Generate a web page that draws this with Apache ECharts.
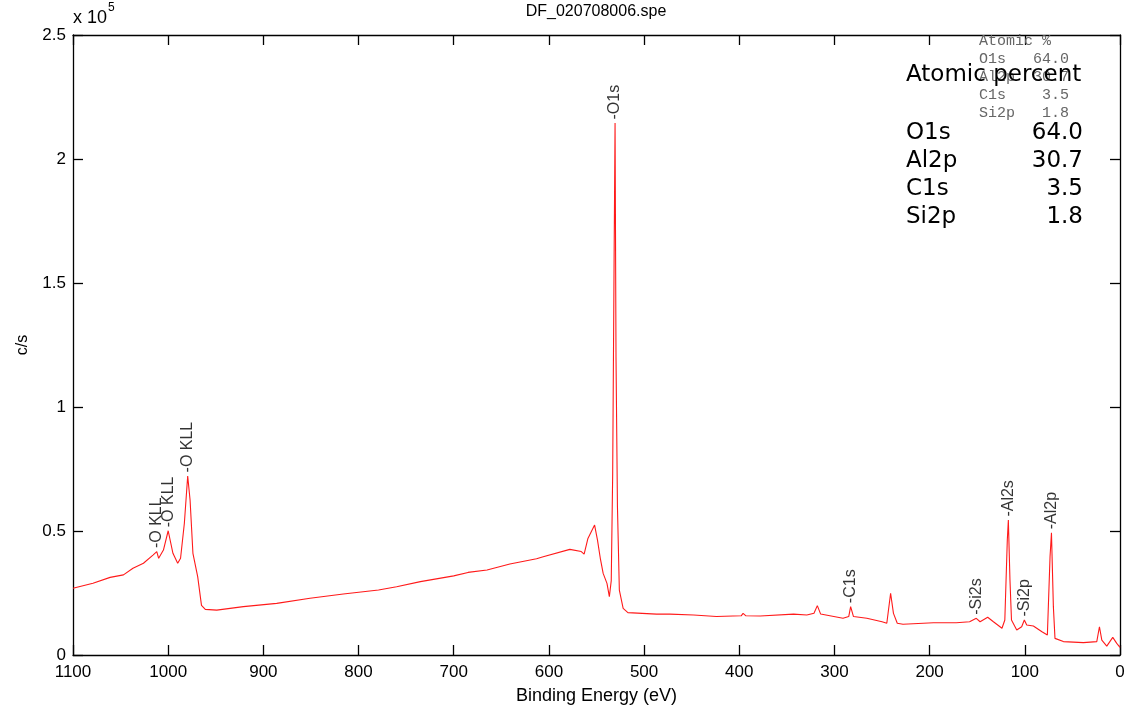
<!DOCTYPE html>
<html>
<head>
<meta charset="utf-8">
<title>DF_020708006.spe</title>
<script src="https://cdn.jsdelivr.net/npm/echarts@6/dist/echarts.min.js"></script>
<style>
	html, body { margin: 0; padding: 0; background: #fff; }
	#chart { width: 1140px; height: 719px; }
</style>
</head>
<body>
<div id="chart"></div>
<script>
// survey spectrum (eV, c/s)
const bindingEnergy = [
	1100, 1079, 1061, 1047, 1037, 1026, 1016, 1012, 1010, 1005, 1000, 995, 990, 987, 983, 979.5, 977, 974, 969, 965, 961,
	949, 921, 886, 851, 816, 779, 760, 735, 700, 685, 665, 641, 613, 606, 578, 566, 563, 559, 552, 549, 546, 543, 539,
	536.5, 534.5, 533, 531.5, 530.5, 529.5, 528, 526, 522, 517, 487, 473, 448, 424, 398, 396, 393, 378, 343, 329,
	321.5, 318, 314.5, 291, 285, 283, 280, 266, 250, 245, 241, 238, 234, 228, 196, 172, 158, 151, 147, 139, 133,
	124, 121, 118.4, 117.3, 115.6, 114, 108.5, 103.3, 100.5, 98, 91, 82, 76.3, 73.5, 72, 70, 68.3, 59.5, 38.5,
	24.4, 21.6, 19.1, 13.9, 7.6, 3.4, 0
];
const countsPerSec = [
	26900, 28900, 31300, 32300, 35000, 37000, 40300, 41700, 39000, 42300, 50100, 41000, 37000, 39000, 53100, 72200, 62500, 41000, 31600, 20000, 18400,
	18100, 19500, 20800, 22900, 24600, 26200, 27500, 29600, 31900, 33300, 34300, 36700, 38800, 39600, 42600, 41700, 40700, 47000, 52400, 46400, 39000, 32900, 28900,
	23500, 30000, 73000, 160000, 214500, 120000, 60000, 26200, 18800, 17100, 16500, 16500, 16100, 15500, 15800, 16800, 15800, 15700, 16500, 16100,
	16800, 19900, 16500, 14800, 15500, 19500, 15500, 14800, 13400, 12800, 24900, 16800, 12800, 12400, 13000, 13000, 13400, 14800, 13400, 15200, 13400,
	10800, 14100, 46400, 54400, 30200, 14100, 10100, 11400, 14100, 12100, 11700, 9400, 8100, 39600, 49300, 19500, 6700, 5400, 5000,
	5400, 11400, 6000, 3600, 7100, 4700, 3100
];

// peak identification labels
const peakNames = ['-O KLL', '-O KLL', '-O KLL', '-O1s', '-C1s', '-Si2s', '-Al2s', '-Si2p', '-Al2p'];
const peakEnergy = [1012, 1000, 979.5, 530.5, 283, 151, 117.3, 100.5, 72];
const peakHeight = [41700, 50100, 72200, 214500, 19500, 14800, 54400, 14100, 49300];

// quantification table
const atomicElements = ['O1s', 'Al2p', 'C1s', 'Si2p'];
const atomicPercent = [64.0, 30.7, 3.5, 1.8];

// axes
const energyTicks = {min: 0, max: 1100, interval: 100};
const countTicks = {min: 0, max: 250000, interval: 50000};
const countExponent = 5;

class SurveySpectrumChart {
	#chart
	#fonts
	constructor(config){
		this.#fonts = {
			sans: '"Liberation Sans", Arial, sans-serif',
			mono: '"Liberation Mono", "Courier New", monospace',
			table: '"DejaVu Sans", Verdana, sans-serif'
		};
		this.#chart = echarts.init(document.querySelector(`#${config.id}`));
		this.#chart.setOption(this.#getOption());
	}
	#getOption(){
		return {
			animation: false,
			backgroundColor: '#fff',
			grid: {left: 73, right: 20, top: 35, bottom: 64, outerBoundsMode: 'none', containLabel: false},
			xAxis: [this.#energyAxis('bottom', true), this.#energyAxis('top', false)],
			yAxis: [this.#countAxis('left', true), this.#countAxis('right', false)],
			series: [
				{
					type: 'line',
					data: bindingEnergy.map((e, i) => [e, countsPerSec[i]]),
					symbol: 'none',
					lineStyle: {color: '#ff1a1a', width: 1.1},
					silent: true,
					z: 2
				},
				{
					type: 'scatter',
					data: peakEnergy.map((e, i) => [e, peakHeight[i]]),
					symbolSize: 1,
					itemStyle: {color: 'rgba(0,0,0,0)'},
					silent: true,
					label: {
						show: true,
						formatter: p => peakNames[p.dataIndex],
						position: 'top',
						distance: 3,
						rotate: 90,
						align: 'left',
						verticalAlign: 'middle',
						color: '#000',
						fontSize: 16,
						fontFamily: this.#fonts.sans
					},
					z: 3
				}
			],
			graphic: this.#getTextGraphics()
		};
	}
	#energyAxis(position, main){
		return {
			type: 'value',
			position: position,
			inverse: true,
			min: energyTicks.min,
			max: energyTicks.max,
			interval: energyTicks.interval,
			axisLine: {show: true, onZero: false, lineStyle: {color: '#000', width: 1.3}},
			axisTick: {show: true, inside: true, length: 10, lineStyle: {color: '#000', width: 1.3}},
			axisLabel: {
				show: main,
				color: '#000',
				fontSize: 17,
				fontFamily: this.#fonts.sans,
				margin: 9,
				showMinLabel: true,
				showMaxLabel: true,
				formatter: v => `${v}`
			},
			splitLine: {show: false},
			name: main? 'Binding Energy (eV)': '',
			nameLocation: 'middle',
			nameGap: 32,
			nameTextStyle: {color: '#000', fontSize: 18, fontFamily: this.#fonts.sans}
		};
	}
	#countAxis(position, main){
		return {
			type: 'value',
			position: position,
			min: countTicks.min,
			max: countTicks.max,
			interval: countTicks.interval,
			axisLine: {show: true, onZero: false, lineStyle: {color: '#000', width: 1.3}},
			axisTick: {show: true, inside: true, length: 10, lineStyle: {color: '#000', width: 1.3}},
			axisLabel: {
				show: main,
				color: '#000',
				fontSize: 17,
				fontFamily: this.#fonts.sans,
				margin: 7,
				formatter: v => `${v / Math.pow(10, countExponent)}`
			},
			splitLine: {show: false},
			name: main? 'c/s': '',
			nameLocation: 'middle',
			nameGap: 42,
			nameTextStyle: {color: '#000', fontSize: 16, fontFamily: this.#fonts.sans}
		};
	}
	#text(x, y, text, font, fill, align, z){
		return {
			type: 'text',
			x: x,
			y: y,
			z: z || 10,
			silent: true,
			style: {
				text: text,
				font: font,
				fill: fill,
				align: align,
				verticalAlign: 'middle',
				textAlign: align,
				textVerticalAlign: 'middle'
			}
		};
	}
	#getTextGraphics(){
		let items = [];
		// title and exponent
		items.push(this.#text(596, 12, 'DF_020708006.spe', `16px ${this.#fonts.sans}`, '#000', 'center'));
		items.push(this.#text(73, 18, 'x 10', `18px ${this.#fonts.sans}`, '#000', 'left'));
		items.push(this.#text(108, 8, `${countExponent}`, `12px ${this.#fonts.sans}`, '#000', 'left'));
		// small monospaced table (underneath)
		let monoLines = ['Atomic %'].concat(atomicElements
			.map((el, i) => el.padEnd(6) + atomicPercent[i].toFixed(1).padStart(4)));
		monoLines.forEach((line, i) => {
			items.push(this.#text(979, 41 + i * 18, line, `15px ${this.#fonts.mono}`, '#666', 'left', 10));
		});
		// large table on top
		items.push(this.#text(906, 75, 'Atomic percent', `23px ${this.#fonts.table}`, '#000', 'left', 11));
		atomicElements.forEach((el, i) => {
			items.push(this.#text(906, 133 + i * 28, el, `23px ${this.#fonts.table}`, '#000', 'left', 11));
			items.push(this.#text(1083, 133 + i * 28, atomicPercent[i].toFixed(1), `23px ${this.#fonts.table}`, '#000', 'right', 11));
		});
		return items;
	}
}

const chart = new SurveySpectrumChart({id: 'chart'});
</script>
</body>
</html>
